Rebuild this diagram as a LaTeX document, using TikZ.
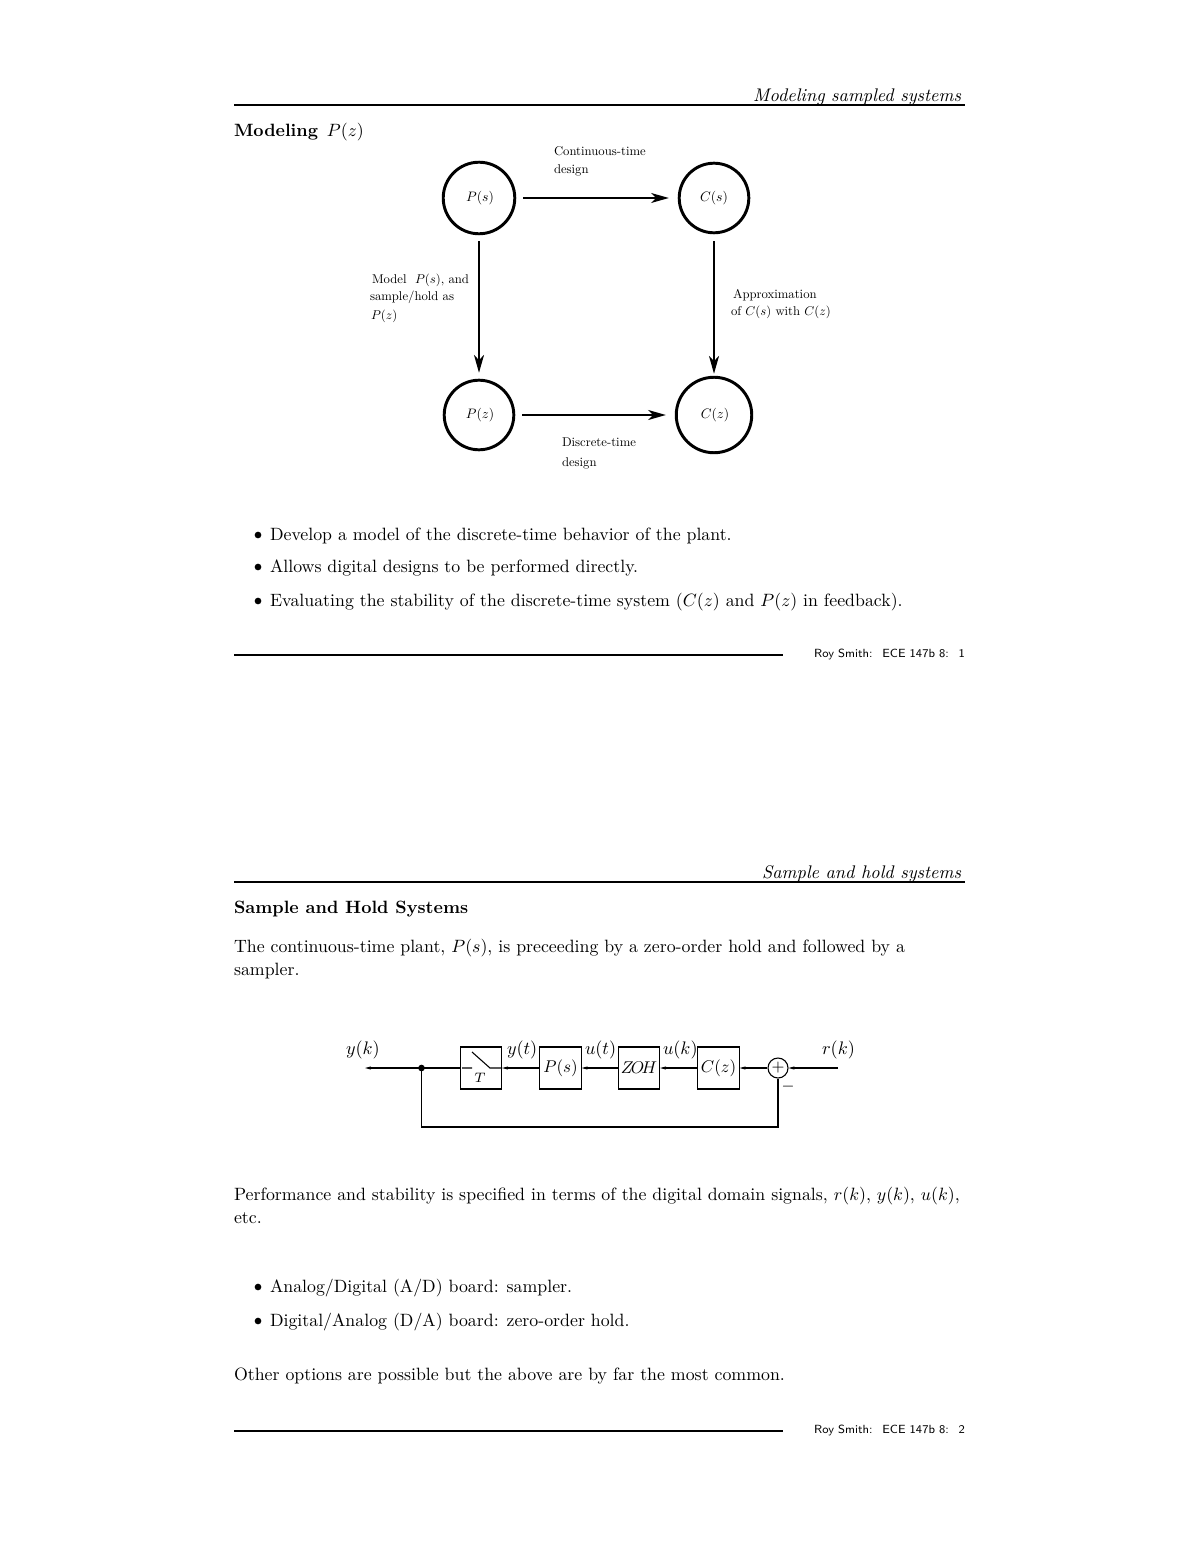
\documentclass[tikz,border=0pt]{standalone}
\usetikzlibrary{arrows.meta}
\tikzset{
 x=0.51bp,y=-0.51bp,
 txt/.style={anchor=base west,inner sep=0pt,outer sep=0pt,font=\fontsize{10}{12}\selectfont,scale=.912,transform shape},
 rtxt/.style={anchor=base east,inner sep=0pt,outer sep=0pt,font=\fontsize{10}{12}\selectfont\itshape,scale=.935,transform shape},
 foot/.style={anchor=base east,inner sep=0pt,outer sep=0pt,font=\fontsize{6.05}{8}\selectfont\sffamily},
 lab/.style={anchor=base west,inner sep=0pt,outer sep=0pt,font=\fontsize{10}{12}\selectfont,scale=.65,transform shape},
 rulec/.style={line width=1.5bp},
 circ/.style={circle,draw,line width=1.5bp,inner sep=0pt},
 circt/.style={inner sep=0pt,font=\fontsize{10}{12}\selectfont,scale=.7,transform shape},
 big/.style={-{Stealth[length=9bp,width=5bp,inset=2.5bp]},line width=1.4bp,shorten <=#1},
 blk/.style={draw,line width=.55bp,minimum width=21bp,minimum height=21.4bp,inner sep=0pt},
 blkt/.style={inner sep=0pt,font=\fontsize{10}{12}\selectfont,scale=.87,transform shape},
 sig/.style={line width=.55bp,-{Stealth[length=3bp,width=1.6bp]}},
 wire/.style={line width=.55bp},
 sgn/.style={inner sep=0pt,outer sep=0pt,anchor=base west,font=\fontsize{10}{12}\selectfont,scale=.93,transform shape},
 bul/.style={circle,fill,inner sep=0pt,minimum size=3.4bp},
}
\begin{document}
\begin{tikzpicture}
\useasboundingbox (0,0) rectangle (1200,1553);
% page 1
\coordinate (h1a) at (234,105); \coordinate (h1b) at (965,105);
\draw[rulec] (h1a) -- (h1b);
\node[rtxt] (h1) at (961,102) {Modeling sampled systems};
\node[txt] (t1) at (234,137) {\textbf{Modeling}\hspace{5pt}$P(z)$};
\node[circ,minimum size=36.5bp] (ps) at (479,198) {};
\node[circ,minimum size=35.5bp] (cs) at (714,198) {};
\node[circ,minimum size=35.5bp] (pz) at (479,415) {};
\node[circ,minimum size=38.5bp] (cz) at (714,415) {};
\node[circt] (pst) at (480,198) {$P(s)$};
\node[circt] (cst) at (714,198) {$C(s)$};
\node[circt] (pzt) at (480,415) {$P(z)$};
\node[circt] (czt) at (715,415) {$C(z)$};
\draw[big=3.5bp,shorten >=4.5bp] (ps) -- (cs);
\draw[big=3.5bp,shorten >=4.5bp] (pz) -- (cz);
\draw[big=3bp,shorten >=3bp] (ps) -- (pz);
\draw[big=3.5bp,shorten >=1bp] (cs) -- (cz);
\node[lab] (l1) at (554,156) {Continuous-time};
\node[lab] (l1b) at (554,174) {design};
\node[lab] (l2) at (372,284) {Model \ $P(s)$, and};
\node[lab] (l2b) at (370,301) {sample/hold as};
\node[lab] (l2c) at (371,320) {$P(z)$};
\node[lab] (l3) at (733,299) {Approximation};
\node[lab] (l3b) at (731,316) {of $C(s)$ with $C(z)$};
\node[lab] (l4) at (562,447) {Discrete-time};
\node[lab] (l4b) at (562,466) {design};
\node[bul] (b1) at (258,535) {};
\node[txt] (b1t) at (270,540) {Develop a model of the discrete-time behavior of the plant.};
\node[bul] (b2) at (258,567) {};
\node[txt] (b2t) at (270,572) {Allows digital designs to be performed directly.};
\node[bul] (b3) at (258,601) {};
\node[txt] (b3t) at (270,606) {Evaluating the stability of the discrete-time system ($C(z)$ and $P(z)$ in feedback).};
\coordinate (f1a) at (234,655); \coordinate (f1b) at (783,655);
\draw[rulec] (f1a) -- (f1b);
\node[foot] (f1) at (965,657) {Roy Smith: \ ECE 147b 8: \ 1};
% page 2
\coordinate (h2a) at (234,882); \coordinate (h2b) at (965,882);
\draw[rulec] (h2a) -- (h2b);
\node[rtxt] (h2) at (961,878) {Sample and hold systems};
\node[txt] (t2) at (234,913) {\textbf{Sample and Hold Systems}};
\node[txt] (p1) at (234,952) {The continuous-time plant, $P(s)$, is preceeding by a zero-order hold and followed by a};
\node[txt] (p1b) at (234,975) {sampler.};
% block diagram
\node[blk] (sw) at (481,1068) {};
\node[blk] (pb) at (560.5,1068) {};
\node[blk] (zoh) at (639,1068) {};
\node[blk] (cb) at (718.5,1068) {};
\node[blkt] (pbt) at (560.5,1068) {$P(s)$};
\node[blkt] (zoht) at (639,1068) {$Z\!O\!H$};
\node[blkt] (cbt) at (718.5,1068) {$C(z)$};
\node[circle,draw,line width=.55bp,minimum size=10.2bp,inner sep=0pt] (sum) at (778,1068) {};
\node[inner sep=0pt,font=\fontsize{8}{10}\selectfont] (plus) at (778,1068) {$+$};
\coordinate (in) at (838,1068);
\coordinate (out) at (365,1068);
\coordinate (j) at (421.5,1068);
\coordinate (fb) at (421.5,1127);
\coordinate (fc) at (778,1127);
\coordinate (s1) at (462,1068);
\coordinate (s2) at (472,1068);
\coordinate (s3) at (472,1052);
\coordinate (s4) at (490,1068);
\coordinate (s5) at (502,1068);
\fill (j) circle (1.7bp);
\draw[sig] (in) -- (sum);
\draw[sig] (sum) -- (cb);
\draw[sig] (cb) -- (zoh);
\draw[sig] (zoh) -- (pb);
\draw[sig] (pb) -- (sw);
\draw[sig] (sw) -- (out);
\draw[wire] (sum) -- (fc) -- (fb) -- (j);
\draw[wire] (s1) -- (s2) (s3) -- (s4) -- (s5);
\node[inner sep=0pt,font=\fontsize{7.5}{10}\selectfont] (tl) at (480,1078) {$T$};
\node[sgn] (ly) at (346,1054) {$y(k)$};
\node[sgn] (lyt) at (507,1054) {$y(t)$};
\node[sgn] (lut) at (585,1054) {$u(t)$};
\node[sgn] (luk) at (663,1054) {$u(k)$};
\node[sgn] (lr) at (822,1054) {$r(k)$};
\node[inner sep=0pt,font=\fontsize{8}{10}\selectfont] (mn) at (788,1087) {$-$};
\node[txt] (p2) at (234,1200) {Performance and stability is specified in terms of the digital domain signals, $r(k)$, $y(k)$, $u(k)$,};
\node[txt] (p2b) at (234,1223) {etc.};
\node[bul] (b4) at (258,1287) {};
\node[txt] (b4t) at (270,1292) {Analog/Digital (A/D) board: sampler.};
\node[bul] (b5) at (258,1321) {};
\node[txt] (b5t) at (270,1326) {Digital/Analog (D/A) board: zero-order hold.};
\node[txt] (p3) at (234,1380) {Other options are possible but the above are by far the most common.};
\coordinate (f2a) at (234,1431); \coordinate (f2b) at (783,1431);
\draw[rulec] (f2a) -- (f2b);
\node[foot] (f2) at (965,1433) {Roy Smith: \ ECE 147b 8: \ 2};
\end{tikzpicture}
\end{document}
